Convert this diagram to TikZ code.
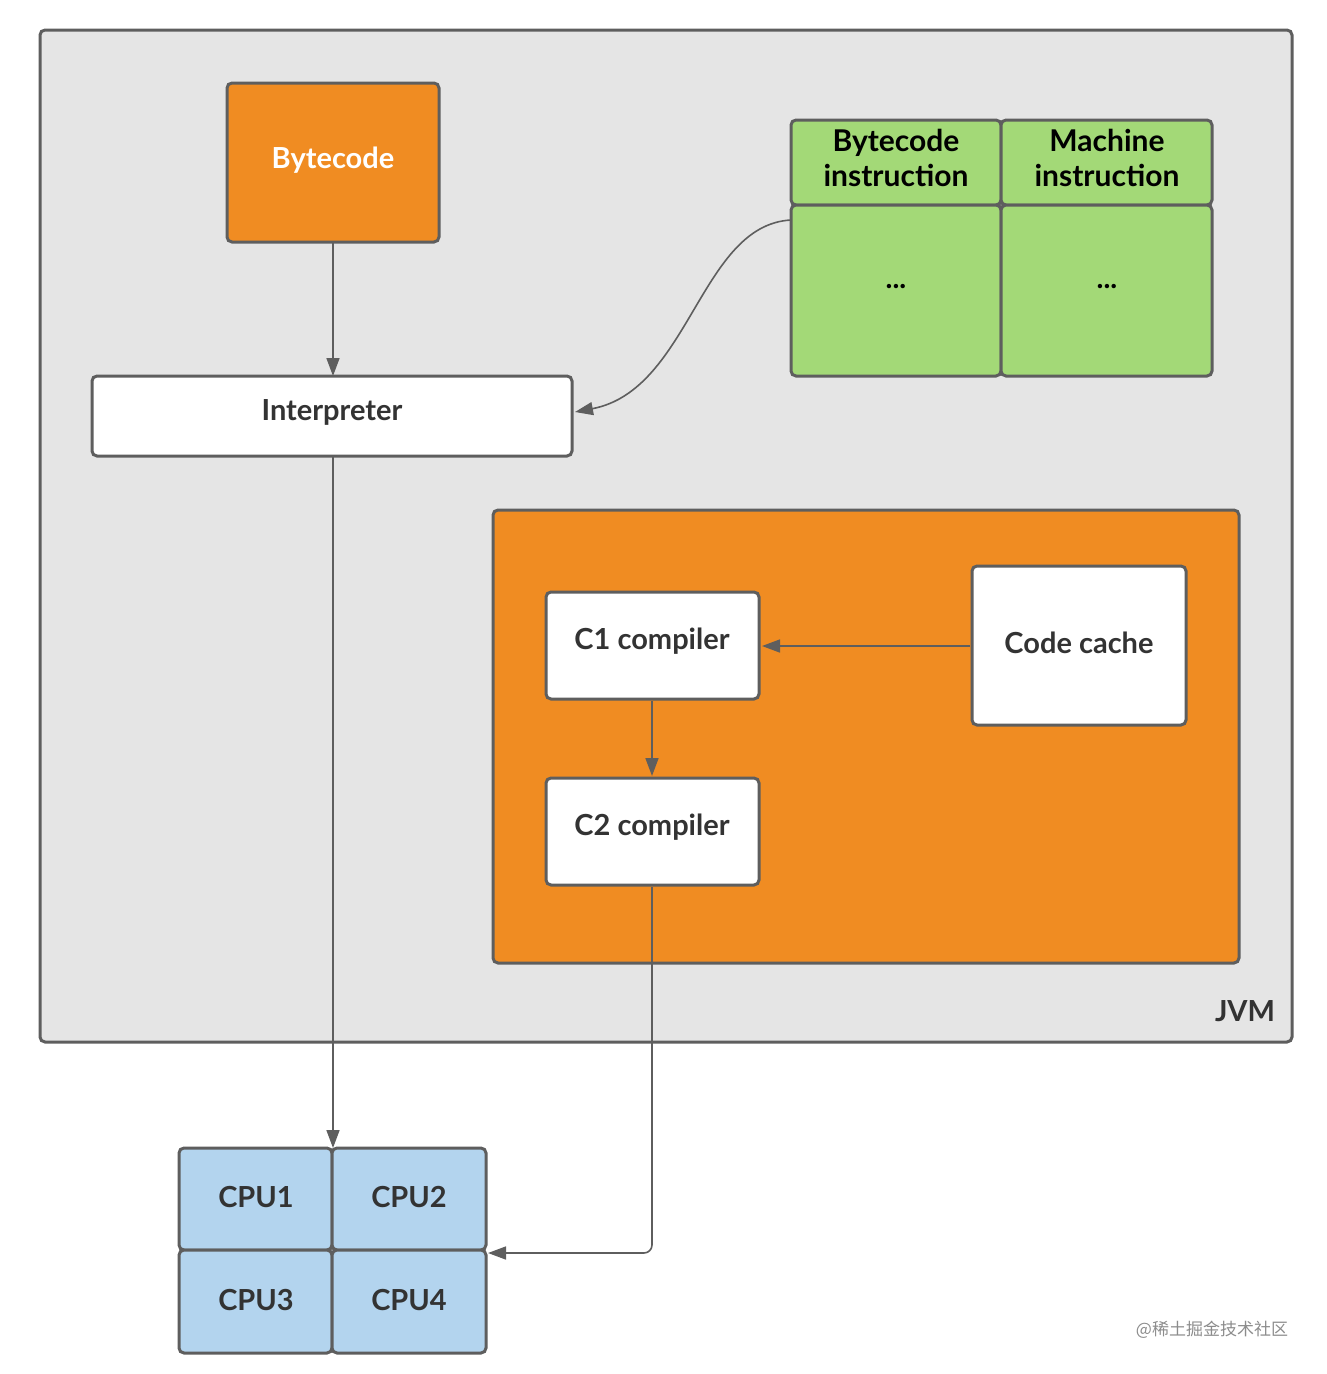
\documentclass[tikz,border=0pt]{standalone}
\usepackage{fontspec}
\setmainfont{Lato}
\newfontfamily\cjk{Noto Sans CJK SC}
\usetikzlibrary{arrows.meta,positioning}
\definecolor{jvmgray}{HTML}{E5E5E5}
\definecolor{edgegray}{HTML}{5E5E5E}
\definecolor{jorange}{HTML}{F08C22}
\definecolor{jgreen}{HTML}{A3D977}
\definecolor{jblue}{HTML}{B3D4EE}
\tikzset{
  box/.style={draw=edgegray,line width=3pt,rounded corners=5pt},
  lbl/.style={font=\fontsize{29}{33}\selectfont\bfseries,text=black!80,align=center},
  link/.style={draw=edgegray,line width=1.6pt,-{Triangle[length=18pt,width=13pt]}}
}
\begin{document}
\begin{tikzpicture}[x=1pt,y=-1pt]
\useasboundingbox (0,0) rectangle (1326,1374);
% JVM
\draw[box,fill=jvmgray] (40,30) rectangle (1292,1042);
\node[lbl,anchor=center] (jvm) at (1245,1011) {JVM};
% Bytecode and interpreter
\draw[box,fill=jorange] (227,83) rectangle (439,242);
\node[lbl,text=white] (bytecode) at (333,160) {Bytecode};
\draw[box,fill=white] (92,376) rectangle (572,456);
\node[lbl] (interp) at (332,412) {Interpreter};
\coordinate (bytebot) at (333,242);
\coordinate (interptop) at (333,376);
\coordinate (interpright) at (575,412);
\coordinate (interpbot) at (333,456);
% table
\draw[box,fill=jgreen] (791,120) rectangle (1001,205);
\draw[box,fill=jgreen] (1001,120) rectangle (1212,205);
\draw[box,fill=jgreen] (791,205) rectangle (1001,376);
\draw[box,fill=jgreen] (1001,205) rectangle (1212,376);
\node[lbl,text=black,font=\fontsize{30}{35}\selectfont\bfseries] (bchead) at (896,158) {Bytecode\\instruction};
\node[lbl,text=black,font=\fontsize{30}{35}\selectfont\bfseries] (mchead) at (1107,158) {Machine\\instruction};
\node[lbl,text=black] (bcdots) at (896,287) {...};
\node[lbl,text=black] (mcdots) at (1107,287) {...};
\coordinate (tableleft) at (791,220);
% compilers
\draw[box,fill=jorange] (493,510) rectangle (1239,963);
\draw[box,fill=white] (546,592) rectangle (759,699);
\node[lbl] (c1) at (652,641) {C1 compiler};
\draw[box,fill=white] (972,566) rectangle (1186,725);
\node[lbl] (cache) at (1079,643) {Code cache};
\draw[box,fill=white] (546,778) rectangle (759,885);
\node[lbl] (c2) at (652,827) {C2 compiler};
% cpus
\draw[box,fill=jblue] (179,1148) rectangle (332,1250);
\draw[box,fill=jblue] (332,1148) rectangle (486,1250);
\draw[box,fill=jblue] (179,1250) rectangle (332,1353);
\draw[box,fill=jblue] (332,1250) rectangle (486,1353);
\node[lbl] (cpu1) at (256,1197) {CPU1};
\node[lbl] (cpu2) at (409,1197) {CPU2};
\node[lbl] (cpu3) at (256,1300) {CPU3};
\node[lbl] (cpu4) at (409,1300) {CPU4};
\coordinate (cpu1top) at (333,1148);
\coordinate (cpu2right) at (488,1253);
%Arrows
\draw[link] (bytebot) -- (interptop);
\draw[link] (tableleft) .. controls (700,225) and (690,390) .. (interpright);
\draw[link] (interpbot) -- (cpu1top);
\draw[link] (970,646) -- (762,646);
\draw[link] (652,701) -- (652,776);
\draw[link,rounded corners=8pt] (652,887) -- (652,1253) -- (cpu2right);
\node[text=black!45,font=\cjk\fontsize{17}{20}\selectfont] (mark) at (1212,1330) {@稀土掘金技术社区};
\end{tikzpicture}
\end{document}
